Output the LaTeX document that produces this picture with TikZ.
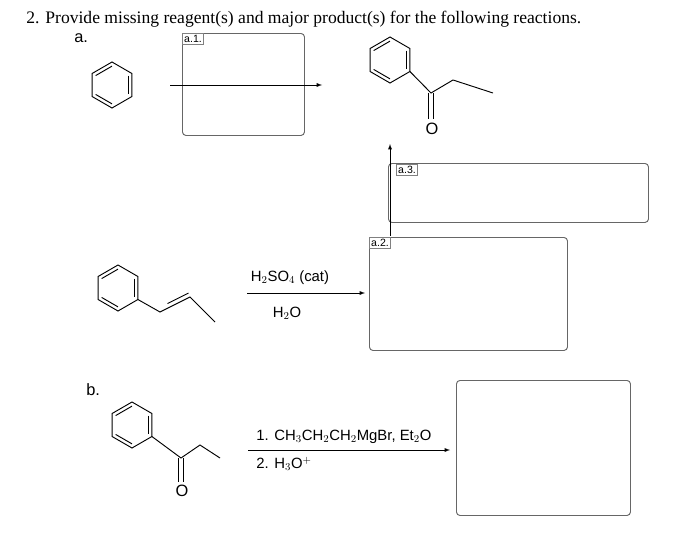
\documentclass[tikz,border=0pt]{standalone}
\usepackage{fontspec}
\setmainfont{Liberation Sans}
\newfontfamily\serifname{Liberation Serif}
\usetikzlibrary{calc}
\begin{document}
\begin{tikzpicture}[x=0.03cm,y=-0.03cm,line width=0.8pt,
  ansbox/.style={draw=black!60,rounded corners=3pt},
  lab/.style={draw=black!50,fill=white,font=\fontsize{9}{10}\selectfont,inner sep=1.5pt,anchor=north west},
  arr/.style={-latex,line width=0.6pt},
  reag/.style={font=\fontsize{12.7}{15}\selectfont},
  pics/benz/.style={code={
    \foreach \a in {30,90,...,330}{\coordinate (-v\a) at (\a:23);}
    \draw (-v30)--(-v90)--(-v150)--(-v210)--(-v270)--(-v330)--cycle;
    \draw ($(-v90)!0.18!(0,0)$)--($(-v150)!0.18!(0,0)$);
    \draw ($(-v210)!0.18!(0,0)$)--($(-v270)!0.18!(0,0)$);
    \draw ($(-v330)!0.18!(0,0)$)--($(-v30)!0.18!(0,0)$);
  }}]
\useasboundingbox (0,0) rectangle (700,559);
\fill[white] (0,0) rectangle (700,559);
\node[anchor=west,font=\serifname\fontsize{15}{18}\selectfont] (title) at (22,19) {2. Provide missing reagent(s) and major product(s) for the following reactions.};
\node[anchor=west,font=\fontsize{14}{16}\selectfont] (la) at (70,38) {a.};
\node[anchor=west,font=\fontsize{14}{16}\selectfont] (lb) at (82,390) {b.};
% reaction a.1
\pic (r1) at (112,85) {benz};
\node[ansbox,minimum width=3.66cm,minimum height=3.06cm,anchor=north west] (b1) at (182,33) {};
\node[lab] (l1) at (182,33) {a.1.};
\coordinate (a1s) at (170,85); \coordinate (a1e) at (322,85);
\draw[arr] (a1s)--(a1e);
\pic (r2) at (390,60) {benz};
\coordinate (c1) at (431,93); \coordinate (c2) at (453,80); \coordinate (c3) at (493,93);
\coordinate (o1) at (431,119);
\draw (r2-v30)--(c1)--(c2)--(c3);
\draw ([xshift=-2.5]c1)--([xshift=-2.5]o1) ([xshift=2.5]c1)--([xshift=2.5]o1);
\node[font=\fontsize{14}{16}\selectfont] (O1) at (432,129) {O};
% a.3
\node[ansbox,minimum width=7.8cm,minimum height=1.77cm,anchor=north west] (b3) at (388,163) {};
\node[lab] (l3) at (396,164) {a.3.};
\coordinate (a3s) at (390,236); \coordinate (a3e) at (390,144);
\draw[arr] (a3s)--(a3e);
% a.2
\node[ansbox,minimum width=5.94cm,minimum height=3.39cm,anchor=north west] (b2) at (369,237) {};
\node[lab] (l2) at (369,237) {a.2.};
\pic (r3) at (118,288) {benz};
\coordinate (d1) at (160,312); \coordinate (d2) at (190,297); \coordinate (d3) at (215,322);
\draw (r3-v30)--(d1)--(d2)--(d3);
\draw ([yshift=4]$(d1)!0.25!(d2)$)--([yshift=4]$(d1)!0.95!(d2)$);
\coordinate (a2s) at (247,293); \coordinate (a2e) at (365,293);
\draw[arr] (a2s)--(a2e);
\node[reag] (t1) at (290,278) {H$_2$SO$_4$ (cat)};
\node[reag] (t2) at (287,313) {H$_2$O};
% b
\pic (r4) at (132,425) {benz};
\coordinate (e1) at (181,458); \coordinate (e2) at (200,445); \coordinate (e3) at (220,458);
\coordinate (o2) at (181,482);
\draw (r4-v30)--(e1)--(e2)--(e3);
\draw ([xshift=-2.5]e1)--([xshift=-2.5]o2) ([xshift=2.5]e1)--([xshift=2.5]o2);
\node[font=\fontsize{14}{16}\selectfont] (O2) at (182,491) {O};
\coordinate (bs) at (248,450); \coordinate (be) at (450,450);
\draw[arr] (bs)--(be);
\node[reag,anchor=west] (t3) at (252,437) {1. CH$_3$CH$_2$CH$_2$MgBr, Et$_2$O};
\node[reag,anchor=west] (t4) at (252,464) {2. H$_3$O$^+$};
\node[ansbox,minimum width=5.22cm,minimum height=4.05cm,anchor=north west] (b4) at (456,380) {};
\end{tikzpicture}
\end{document}
